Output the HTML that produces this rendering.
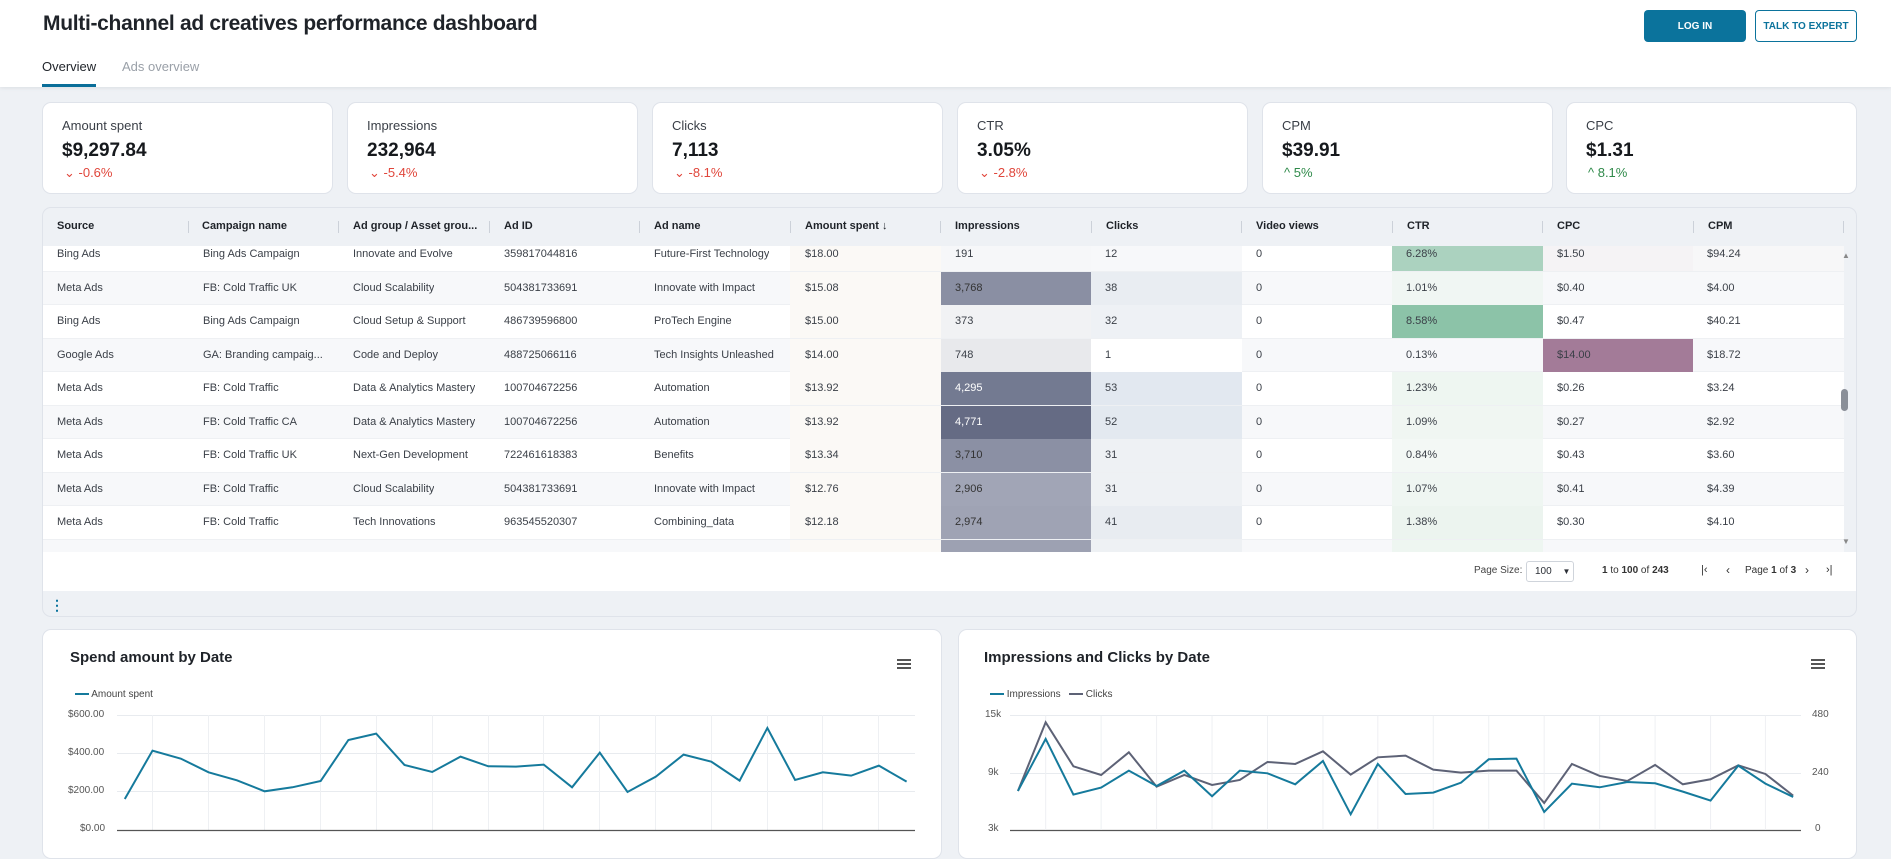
<!DOCTYPE html>
<html><head><meta charset="utf-8">
<style>
*{box-sizing:border-box;margin:0;padding:0}
body{width:1891px;height:833px;overflow:hidden;background:#eef1f5;font-family:"Liberation Sans",sans-serif;color:#2b2f36;position:relative}
.abs{position:absolute;white-space:nowrap}
.hdr{left:0;top:0;width:1891px;height:87px;background:#fff;box-shadow:0 1px 4px rgba(0,0,0,.08)}
.title{left:43px;top:12px;font-size:21px;font-weight:bold;color:#1f2329;letter-spacing:-0.3px}
.tab{top:59px;font-size:13px}
.btn{top:10px;height:32px;border-radius:4px;font-size:10px;font-weight:bold;display:flex;align-items:center;justify-content:center}
.card{background:#fff;border:1px solid #dfe3ea;border-radius:9px}
.kl{position:absolute;left:19px;top:15px;font-size:13px;color:#3a3f47}
.kv{position:absolute;left:19px;top:37px;font-size:19px;font-weight:bold;color:#16191d}
.kd{position:absolute;left:21px;top:62px;font-size:13px}
.red{color:#e0463b}.grn{color:#2f8a4a}
.th{top:207px;height:39px;font-size:11px;font-weight:bold;line-height:39px;color:#1f2329}
.sep{top:221px;width:1px;height:12px;background:#ccd1d9}
.tbody{position:absolute;left:43px;top:246px;width:1801px;height:306px;overflow:hidden;background:#fff}
.row{position:absolute;left:0;width:1801px;height:33.5px;border-bottom:1px solid #eef0f3}
.c{position:absolute;top:0;height:33px;line-height:33px;font-size:11px;color:#3a3f47;white-space:nowrap;overflow:hidden}
.ctitle{font-size:15px;font-weight:bold;color:#1f2329}
.ham{width:14px;height:2px;background:#555;box-shadow:0 4px 0 #555,0 8px 0 #555}
.yl{font-size:10px;color:#555}
</style></head><body>
<div class="abs hdr"></div>
<div class="abs title">Multi-channel ad creatives performance dashboard</div>
<div class="abs tab" style="left:42px;color:#1f2329">Overview</div>
<div class="abs" style="left:42px;top:84px;width:54px;height:3px;background:#0a6e99"></div>
<div class="abs tab" style="left:122px;color:#9aa0a8">Ads overview</div>
<div class="abs btn" style="left:1644px;width:102px;background:#0b739c;color:#fff">LOG IN</div>
<div class="abs btn" style="left:1755px;width:102px;border:1px solid #0b739c;color:#0b739c;background:#fff">TALK TO EXPERT</div>

<div class="abs card" style="left:42px;top:102px;width:291px;height:92px"><div class="kl">Amount spent</div><div class="kv">$9,297.84</div><div class="kd red">⌄ -0.6%</div></div>
<div class="abs card" style="left:347px;top:102px;width:291px;height:92px"><div class="kl">Impressions</div><div class="kv">232,964</div><div class="kd red">⌄ -5.4%</div></div>
<div class="abs card" style="left:652px;top:102px;width:291px;height:92px"><div class="kl">Clicks</div><div class="kv">7,113</div><div class="kd red">⌄ -8.1%</div></div>
<div class="abs card" style="left:957px;top:102px;width:291px;height:92px"><div class="kl">CTR</div><div class="kv">3.05%</div><div class="kd red">⌄ -2.8%</div></div>
<div class="abs card" style="left:1262px;top:102px;width:291px;height:92px"><div class="kl">CPM</div><div class="kv">$39.91</div><div class="kd grn">^ 5%</div></div>
<div class="abs card" style="left:1566px;top:102px;width:291px;height:92px"><div class="kl">CPC</div><div class="kv">$1.31</div><div class="kd grn">^ 8.1%</div></div>

<div class="abs card" style="left:42px;top:207px;width:1815px;height:410px;background:#eef1f5;overflow:hidden"></div>
<div class="abs" style="left:43px;top:552px;width:1813px;height:39px;background:#fff"></div>
<div class="abs" style="left:50px;top:597px;color:#0b739c;font-size:14px;font-weight:bold">⋮</div>

<div class="abs th" style="left:57px">Source</div>
<div class="abs th" style="left:202px">Campaign name</div>
<div class="abs th" style="left:353px">Ad group / Asset grou...</div>
<div class="abs th" style="left:504px">Ad ID</div>
<div class="abs th" style="left:654px">Ad name</div>
<div class="abs th" style="left:805px">Amount spent ↓</div>
<div class="abs th" style="left:955px">Impressions</div>
<div class="abs th" style="left:1106px">Clicks</div>
<div class="abs th" style="left:1256px">Video views</div>
<div class="abs th" style="left:1407px">CTR</div>
<div class="abs th" style="left:1557px">CPC</div>
<div class="abs th" style="left:1708px">CPM</div>
<div class="abs sep" style="left:188px"></div><div class="abs sep" style="left:338px"></div><div class="abs sep" style="left:489px"></div><div class="abs sep" style="left:639px"></div><div class="abs sep" style="left:790px"></div><div class="abs sep" style="left:940px"></div><div class="abs sep" style="left:1091px"></div><div class="abs sep" style="left:1241px"></div><div class="abs sep" style="left:1392px"></div><div class="abs sep" style="left:1542px"></div><div class="abs sep" style="left:1693px"></div><div class="abs sep" style="left:1843px"></div>

<div class="tbody">
<div class="row" style="top:-8px;background:#fff"><div class="c" style="left:14px">Bing Ads</div><div class="c" style="left:160px">Bing Ads Campaign</div><div class="c" style="left:310px">Innovate and Evolve</div><div class="c" style="left:461px">359817044816</div><div class="c" style="left:611px">Future-First Technology</div><div class="c" style="left:747px;width:151px;background:#fbf9f6;padding-left:15px">$18.00</div><div class="c" style="left:898px;width:150px;background:#f6f7f9;padding-left:14px">191</div><div class="c" style="left:1048px;width:151px;background:#f7f8fa;padding-left:14px">12</div><div class="c" style="left:1213px">0</div><div class="c" style="left:1349px;width:151px;background:#abd2bf;padding-left:14px">6.28%</div><div class="c" style="left:1500px;width:150px;background:#f5f3f5;padding-left:14px">$1.50</div><div class="c" style="left:1650px;width:151px;background:#f7f7f8;padding-left:14px">$94.24</div></div>
<div class="row" style="top:25.5px;background:#f7f8fa"><div class="c" style="left:14px">Meta Ads</div><div class="c" style="left:160px">FB: Cold Traffic UK</div><div class="c" style="left:310px">Cloud Scalability</div><div class="c" style="left:461px">504381733691</div><div class="c" style="left:611px">Innovate with Impact</div><div class="c" style="left:747px;width:151px;background:#fbf9f6;padding-left:15px">$15.08</div><div class="c" style="left:898px;width:150px;background:#8a8fa3;padding-left:14px;color:#333">3,768</div><div class="c" style="left:1048px;width:151px;background:#e9edf2;padding-left:14px">38</div><div class="c" style="left:1213px">0</div><div class="c" style="left:1349px;width:151px;background:#f0f6f3;padding-left:14px">1.01%</div><div class="c" style="left:1514px">$0.40</div><div class="c" style="left:1664px">$4.00</div></div>
<div class="row" style="top:59px;background:#fff"><div class="c" style="left:14px">Bing Ads</div><div class="c" style="left:160px">Bing Ads Campaign</div><div class="c" style="left:310px">Cloud Setup &amp; Support</div><div class="c" style="left:461px">486739596800</div><div class="c" style="left:611px">ProTech Engine</div><div class="c" style="left:747px;width:151px;background:#fbf9f6;padding-left:15px">$15.00</div><div class="c" style="left:898px;width:150px;background:#f1f2f4;padding-left:14px">373</div><div class="c" style="left:1048px;width:151px;background:#eef1f5;padding-left:14px">32</div><div class="c" style="left:1213px">0</div><div class="c" style="left:1349px;width:151px;background:#8cc3a8;padding-left:14px">8.58%</div><div class="c" style="left:1514px">$0.47</div><div class="c" style="left:1664px">$40.21</div></div>
<div class="row" style="top:92.5px;background:#f7f8fa"><div class="c" style="left:14px">Google Ads</div><div class="c" style="left:160px">GA: Branding campaig...</div><div class="c" style="left:310px">Code and Deploy</div><div class="c" style="left:461px">488725066116</div><div class="c" style="left:611px">Tech Insights Unleashed</div><div class="c" style="left:747px;width:151px;background:#fbf9f6;padding-left:15px">$14.00</div><div class="c" style="left:898px;width:150px;background:#e8e9ec;padding-left:14px">748</div><div class="c" style="left:1048px;width:151px;background:#fff;padding-left:14px">1</div><div class="c" style="left:1213px">0</div><div class="c" style="left:1363px">0.13%</div><div class="c" style="left:1500px;width:150px;background:#a37b98;padding-left:14px">$14.00</div><div class="c" style="left:1664px">$18.72</div></div>
<div class="row" style="top:126px;background:#fff"><div class="c" style="left:14px">Meta Ads</div><div class="c" style="left:160px">FB: Cold Traffic</div><div class="c" style="left:310px">Data &amp; Analytics Mastery</div><div class="c" style="left:461px">100704672256</div><div class="c" style="left:611px">Automation</div><div class="c" style="left:747px;width:151px;background:#fbf9f6;padding-left:15px">$13.92</div><div class="c" style="left:898px;width:150px;background:#737a91;padding-left:14px;color:#fff">4,295</div><div class="c" style="left:1048px;width:151px;background:#e2e8f0;padding-left:14px">53</div><div class="c" style="left:1213px">0</div><div class="c" style="left:1349px;width:151px;background:#eef6f1;padding-left:14px">1.23%</div><div class="c" style="left:1514px">$0.26</div><div class="c" style="left:1664px">$3.24</div></div>
<div class="row" style="top:159.5px;background:#f7f8fa"><div class="c" style="left:14px">Meta Ads</div><div class="c" style="left:160px">FB: Cold Traffic CA</div><div class="c" style="left:310px">Data &amp; Analytics Mastery</div><div class="c" style="left:461px">100704672256</div><div class="c" style="left:611px">Automation</div><div class="c" style="left:747px;width:151px;background:#fbf9f6;padding-left:15px">$13.92</div><div class="c" style="left:898px;width:150px;background:#656b84;padding-left:14px;color:#fff">4,771</div><div class="c" style="left:1048px;width:151px;background:#e3e9f0;padding-left:14px">52</div><div class="c" style="left:1213px">0</div><div class="c" style="left:1349px;width:151px;background:#f0f6f2;padding-left:14px">1.09%</div><div class="c" style="left:1514px">$0.27</div><div class="c" style="left:1664px">$2.92</div></div>
<div class="row" style="top:193px;background:#fff"><div class="c" style="left:14px">Meta Ads</div><div class="c" style="left:160px">FB: Cold Traffic UK</div><div class="c" style="left:310px">Next-Gen Development</div><div class="c" style="left:461px">722461618383</div><div class="c" style="left:611px">Benefits</div><div class="c" style="left:747px;width:151px;background:#fbf9f6;padding-left:15px">$13.34</div><div class="c" style="left:898px;width:150px;background:#8b90a4;padding-left:14px;color:#333">3,710</div><div class="c" style="left:1048px;width:151px;background:#eef1f4;padding-left:14px">31</div><div class="c" style="left:1213px">0</div><div class="c" style="left:1349px;width:151px;background:#f3f8f5;padding-left:14px">0.84%</div><div class="c" style="left:1514px">$0.43</div><div class="c" style="left:1664px">$3.60</div></div>
<div class="row" style="top:226.5px;background:#f7f8fa"><div class="c" style="left:14px">Meta Ads</div><div class="c" style="left:160px">FB: Cold Traffic</div><div class="c" style="left:310px">Cloud Scalability</div><div class="c" style="left:461px">504381733691</div><div class="c" style="left:611px">Innovate with Impact</div><div class="c" style="left:747px;width:151px;background:#fbf9f6;padding-left:15px">$12.76</div><div class="c" style="left:898px;width:150px;background:#a1a5b6;padding-left:14px;color:#333">2,906</div><div class="c" style="left:1048px;width:151px;background:#eef1f4;padding-left:14px">31</div><div class="c" style="left:1213px">0</div><div class="c" style="left:1349px;width:151px;background:#eff6f2;padding-left:14px">1.07%</div><div class="c" style="left:1514px">$0.41</div><div class="c" style="left:1664px">$4.39</div></div>
<div class="row" style="top:260px;background:#fff"><div class="c" style="left:14px">Meta Ads</div><div class="c" style="left:160px">FB: Cold Traffic</div><div class="c" style="left:310px">Tech Innovations</div><div class="c" style="left:461px">963545520307</div><div class="c" style="left:611px">Combining_data</div><div class="c" style="left:747px;width:151px;background:#fbf9f6;padding-left:15px">$12.18</div><div class="c" style="left:898px;width:150px;background:#9fa3b4;padding-left:14px;color:#333">2,974</div><div class="c" style="left:1048px;width:151px;background:#e8ecf1;padding-left:14px">41</div><div class="c" style="left:1213px">0</div><div class="c" style="left:1349px;width:151px;background:#ecf4ef;padding-left:14px">1.38%</div><div class="c" style="left:1514px">$0.30</div><div class="c" style="left:1664px">$4.10</div></div>
<div class="row" style="top:293.5px;background:#f7f8fa"><div class="c" style="left:747px;width:151px;background:#fbf9f6"></div><div class="c" style="left:898px;width:150px;background:#9da1b2"></div><div class="c" style="left:1048px;width:151px;background:#eef1f4"></div><div class="c" style="left:1349px;width:151px;background:#eef6f1"></div></div>
</div>
<div class="abs" style="left:1842px;top:251px;font-size:8px;color:#888">▲</div>
<div class="abs" style="left:1842px;top:537px;font-size:8px;color:#888">▼</div>
<div class="abs" style="left:1841px;top:389px;width:7px;height:22px;border-radius:4px;background:#8a8f98"></div>

<div class="abs" style="left:1474px;top:565px;font-size:10px;color:#444">Page Size:</div>
<div class="abs" style="left:1526px;top:561px;width:48px;height:21px;border:1px solid #cfd4db;border-radius:3px;font-size:10px;line-height:19px;padding-left:8px;background:#fff">100 <span style="font-size:8px;margin-left:8px">▼</span></div>
<div class="abs" style="left:1602px;top:565px;font-size:10px;color:#333"><b>1</b> to <b>100</b> of <b>243</b></div>
<div class="abs" style="left:1701px;top:564px;font-size:11px;color:#333">|‹</div>
<div class="abs" style="left:1726px;top:563px;font-size:12px;color:#333">‹</div>
<div class="abs" style="left:1745px;top:565px;font-size:10px;color:#333">Page <b>1</b> of <b>3</b></div>
<div class="abs" style="left:1805px;top:563px;font-size:12px;color:#333">›</div>
<div class="abs" style="left:1826px;top:564px;font-size:11px;color:#333">›|</div>

<div class="abs card" style="left:42px;top:629px;width:900px;height:230px"></div>
<div class="abs card" style="left:958px;top:629px;width:899px;height:230px"></div>
<div class="abs ctitle" style="left:70px;top:649px">Spend amount by Date</div>
<div class="abs ctitle" style="left:984px;top:649px">Impressions and Clicks by Date</div>
<div class="abs ham" style="left:897px;top:659px"></div>
<div class="abs ham" style="left:1811px;top:659px"></div>
<div class="abs" style="left:75px;top:689px;font-size:10px;color:#444"><span style="display:inline-block;width:14px;height:2px;background:#157a9c;vertical-align:middle"></span> Amount spent</div>
<div class="abs" style="left:990px;top:689px;font-size:10px;color:#444"><span style="display:inline-block;width:14px;height:2px;background:#157a9c;vertical-align:middle"></span> Impressions &nbsp; <span style="display:inline-block;width:14px;height:2px;background:#5d6276;vertical-align:middle"></span> Clicks</div>
<div class="abs yl" style="left:68px;top:709px">$600.00</div>
<div class="abs yl" style="left:68px;top:747px">$400.00</div>
<div class="abs yl" style="left:68px;top:785px">$200.00</div>
<div class="abs yl" style="left:80px;top:823px">$0.00</div>
<div class="abs yl" style="left:985px;top:709px">15k</div>
<div class="abs yl" style="left:988px;top:767px">9k</div>
<div class="abs yl" style="left:988px;top:823px">3k</div>
<div class="abs yl" style="left:1812px;top:709px">480</div>
<div class="abs yl" style="left:1812px;top:767px">240</div>
<div class="abs yl" style="left:1815px;top:823px">0</div>

<svg class="abs" style="left:0;top:0" width="1891" height="833">
<g stroke="#e8ebef" stroke-width="1">
<line x1="117" y1="715.5" x2="915" y2="715.5"/><line x1="117" y1="753.5" x2="915" y2="753.5"/><line x1="117" y1="791.5" x2="915" y2="791.5"/>
<line x1="1010" y1="715.5" x2="1801" y2="715.5"/><line x1="1010" y1="773.5" x2="1801" y2="773.5"/>
</g>
<g stroke="#eef0f3" stroke-width="1">
<line x1="152.5" y1="715" x2="152.5" y2="830"/><line x1="208.5" y1="715" x2="208.5" y2="830"/><line x1="264.5" y1="715" x2="264.5" y2="830"/><line x1="320.5" y1="715" x2="320.5" y2="830"/><line x1="376.5" y1="715" x2="376.5" y2="830"/><line x1="432.5" y1="715" x2="432.5" y2="830"/><line x1="488.5" y1="715" x2="488.5" y2="830"/><line x1="543.5" y1="715" x2="543.5" y2="830"/><line x1="599.5" y1="715" x2="599.5" y2="830"/><line x1="655.5" y1="715" x2="655.5" y2="830"/><line x1="711.5" y1="715" x2="711.5" y2="830"/><line x1="767.5" y1="715" x2="767.5" y2="830"/><line x1="822.5" y1="715" x2="822.5" y2="830"/><line x1="878.5" y1="715" x2="878.5" y2="830"/>
</g>
<line x1="117" y1="830.5" x2="915" y2="830.5" stroke="#555" stroke-width="1.2"/>
<line x1="1010" y1="830.5" x2="1801" y2="830.5" stroke="#555" stroke-width="1.2"/>
<g transform="translate(0,400) scale(0.6028,0.3333)" fill="none" stroke="#157a9c" stroke-width="2">
<polyline vector-effect="non-scaling-stroke" points="207,1197 253,1052 300,1076 346,1117 393,1141 439,1174 485,1162 532,1143 578,1020 624,1001 671,1095 717,1116 764,1070 810,1099 856,1100 902,1094 949,1162 995,1058 1041,1176 1088,1130 1134,1064 1180,1085 1227,1142 1273,984 1319,1140 1365,1117 1412,1127 1458,1097 1504,1145"/>
</g>
<g transform="translate(945,400) scale(0.6028,0.3333)" fill="none" stroke-width="2">
<g stroke="#eef0f3" stroke-width="1">
<polyline vector-effect="non-scaling-stroke" points="167,947 167,1290"/><polyline vector-effect="non-scaling-stroke" points="259,947 259,1290"/><polyline vector-effect="non-scaling-stroke" points="351,947 351,1290"/><polyline vector-effect="non-scaling-stroke" points="443,947 443,1290"/><polyline vector-effect="non-scaling-stroke" points="535,947 535,1290"/><polyline vector-effect="non-scaling-stroke" points="627,947 627,1290"/><polyline vector-effect="non-scaling-stroke" points="718,947 718,1290"/><polyline vector-effect="non-scaling-stroke" points="810,947 810,1290"/><polyline vector-effect="non-scaling-stroke" points="902,947 902,1290"/><polyline vector-effect="non-scaling-stroke" points="994,947 994,1290"/><polyline vector-effect="non-scaling-stroke" points="1086,947 1086,1290"/><polyline vector-effect="non-scaling-stroke" points="1178,947 1178,1290"/><polyline vector-effect="non-scaling-stroke" points="1270,947 1270,1290"/><polyline vector-effect="non-scaling-stroke" points="1361,947 1361,1290"/>
</g>
<polyline stroke="#5d6276" vector-effect="non-scaling-stroke" points="121,1173 167,967 213,1099 259,1125 305,1057 351,1160 397,1125 443,1155 489,1140 535,1086 581,1092 627,1054 673,1124 718,1072 764,1067 810,1109 856,1118 902,1112 948,1112 994,1209 1040,1092 1086,1128 1132,1143 1178,1095 1224,1153 1270,1138 1316,1096 1361,1122 1407,1187"/>
<polyline stroke="#157a9c" vector-effect="non-scaling-stroke" points="121,1173 167,1017 213,1184 259,1163 305,1112 351,1158 397,1112 443,1189 489,1112 535,1120 581,1153 627,1083 673,1243 718,1092 764,1182 810,1178 856,1148 902,1078 948,1076 994,1236 1040,1151 1086,1162 1132,1146 1178,1150 1224,1175 1270,1202 1316,1097 1361,1151 1407,1191"/>
</g>
</svg>
</body></html>
